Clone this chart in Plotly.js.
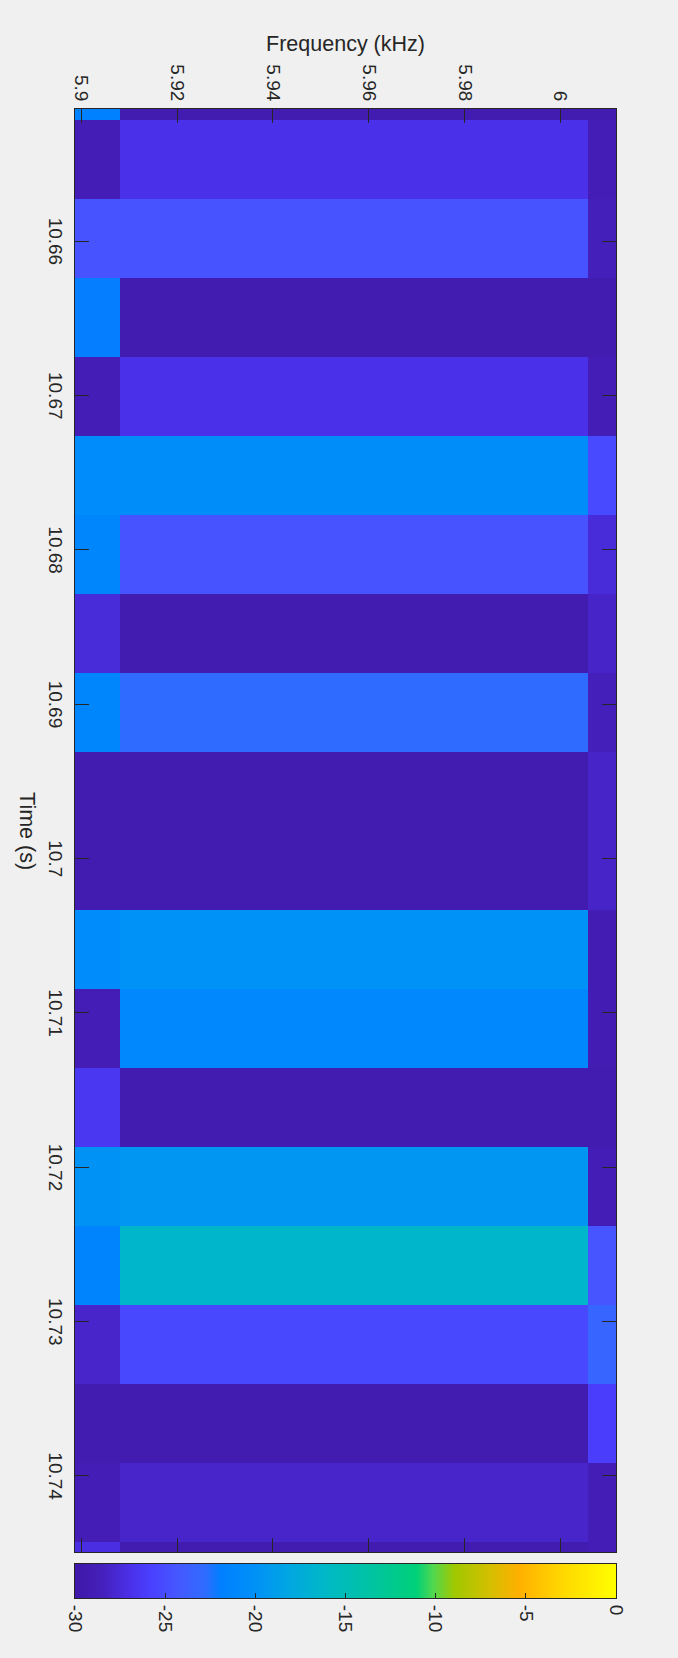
<!DOCTYPE html>
<html><head><meta charset="utf-8">
<script src="https://cdn.plot.ly/plotly-3.0.1.min.js"></script>
<style>html,body{margin:0;padding:0;background:#f0f0f0}</style></head>
<body><div id="chart" style="width:678px;height:1658px"></div>
<script>
// Frequency bin edges (kHz) and time bin edges (s)
const freqEdges = [5.8987, 5.90808, 6.00565, 6.01155];
const timeEdges = [10.65143, 10.65214, 10.65726, 10.66238, 10.6675, 10.67262, 10.67773, 10.68285, 10.68797, 10.69309, 10.69821, 10.70333, 10.70845, 10.71357, 10.71869, 10.72381, 10.72893, 10.73405, 10.73917, 10.74429, 10.74494];
// Power (dB) per time row: [low, middle, high frequency column]
const powerLow  = [-21.8,-29,-24.6,-22,-29,-20.6,-21.2,-27.5,-21.2,-29.3,-29.3,-20.5,-29,-26.5,-19.8,-21.5,-28,-29.3,-29,-27.2];
const powerMid  = [-29.3,-27,-24.6,-29.3,-27,-20.4,-24.6,-29.3,-22.9,-29.3,-29.3,-19.9,-21,-29.3,-19.6,-16.4,-25.3,-29.3,-28,-29.3];
const powerHigh = [-29.3,-29,-28.7,-29.3,-29,-25.2,-27.5,-28.1,-28.7,-28.1,-28.1,-29.2,-29.2,-29.3,-29,-24.5,-23.3,-26,-29,-29];
const freqTicks = [5.9,5.92,5.94,5.96,5.98,6];
const freqLabels = ['5.9','5.92','5.94','5.96','5.98','6'];
const timeTicks = [10.66,10.67,10.68,10.69,10.7,10.71,10.72,10.73,10.74];
const timeLabels = ['10.66','10.67','10.68','10.69','10.7','10.71','10.72','10.73','10.74'];
const cbarTicks = [-30,-25,-20,-15,-10,-5,0];
const cbarLevels = [-30,-29,-28,-27,-26,-25,-24,-23,-22,-21,-20,-19,-18,-17,-16,-15,-14,-13,-12,-11,-10,-9,-8,-7,-6,-5,-4,-3,-2,-1,0];
const colorStops = [[0,'#3f18a8'],[0.05,'#4520bc'],[0.1,'#4a30e8'],[0.14,'#4a40ff'],[0.19,'#4558ff'],[0.24,'#2f6cff'],[0.27,'#0080ff'],[0.33,'#0090f8'],[0.4,'#00a8e0'],[0.46,'#00b8c8'],[0.55,'#00c4a0'],[0.63,'#00d078'],[0.66,'#50d850'],[0.7,'#a0c800'],[0.76,'#d0c000'],[0.82,'#ffb000'],[0.9,'#ffd800'],[1,'#ffff00']];

const ink = '#262626';
const z = powerLow.map((v,i)=>[v,powerMid[i],powerHigh[i]]);
const W=678,H=1658, L=75.2,R=615.7,T=109,B=1552.5, CT=1564.3, CB=1598.3;
const areaH=CB-T;
const axisCommon={ticks:'inside',tickwidth:1,tickcolor:ink,showline:true,linecolor:ink,linewidth:1,showgrid:false,zeroline:false,tickmode:'array',tickangle:90,tickfont:{size:19,color:ink}};
const data=[
 {type:'heatmap',x:freqEdges,y:timeEdges,z:z,zmin:-30,zmax:0,colorscale:colorStops,showscale:false,hoverinfo:'skip',xaxis:'x',yaxis:'y'},
 {type:'heatmap',x:cbarLevels,y:[0,1],z:[cbarLevels,cbarLevels],zmin:-30,zmax:0,colorscale:colorStops,showscale:false,zsmooth:'best',hoverinfo:'skip',xaxis:'x2',yaxis:'y2'}
];
const layout={width:W,height:H,paper_bgcolor:'#f0f0f0',plot_bgcolor:'#f0f0f0',showlegend:false,
  margin:{l:L,r:W-R,t:T,b:H-CB,pad:0},
  font:{family:'Liberation Sans, Arial, sans-serif',color:ink},
  xaxis:{...axisCommon,side:'top',anchor:'y',domain:[0,1],range:[freqEdges[0],freqEdges[3]],tickvals:freqTicks,ticktext:freqLabels,
    ticklen:14,mirror:'ticks',title:{text:'Frequency (kHz)',font:{size:21.5,color:ink},standoff:6}},
  yaxis:{...axisCommon,anchor:'x',domain:[(CB-B)/areaH,1],range:[timeEdges[timeEdges.length-1],timeEdges[0]],tickvals:timeTicks,ticktext:timeLabels,
    ticklen:14,mirror:'ticks',ticklabelshift:-3,ticklabelstandoff:2},
  xaxis2:{...axisCommon,side:'bottom',anchor:'y2',domain:[0,1],range:[-30,0],tickvals:cbarTicks,ticktext:cbarTicks.map(String),ticklen:5,mirror:true,ticklabelstandoff:2},
  yaxis2:{anchor:'x2',domain:[0,(CB-CT)/areaH],range:[0,1],showticklabels:false,ticks:'',showline:true,linecolor:ink,linewidth:1,mirror:true,showgrid:false,zeroline:false},
  annotations:[{text:'Time (s)',xref:'paper',yref:'paper',x:(27-L)/(R-L),y:1-(831-T)/areaH,xanchor:'center',yanchor:'middle',showarrow:false,textangle:90,font:{size:21.5,color:ink}}]
};
Plotly.newPlot('chart',data,layout,{displayModeBar:false,staticPlot:true});
</script></body></html>
